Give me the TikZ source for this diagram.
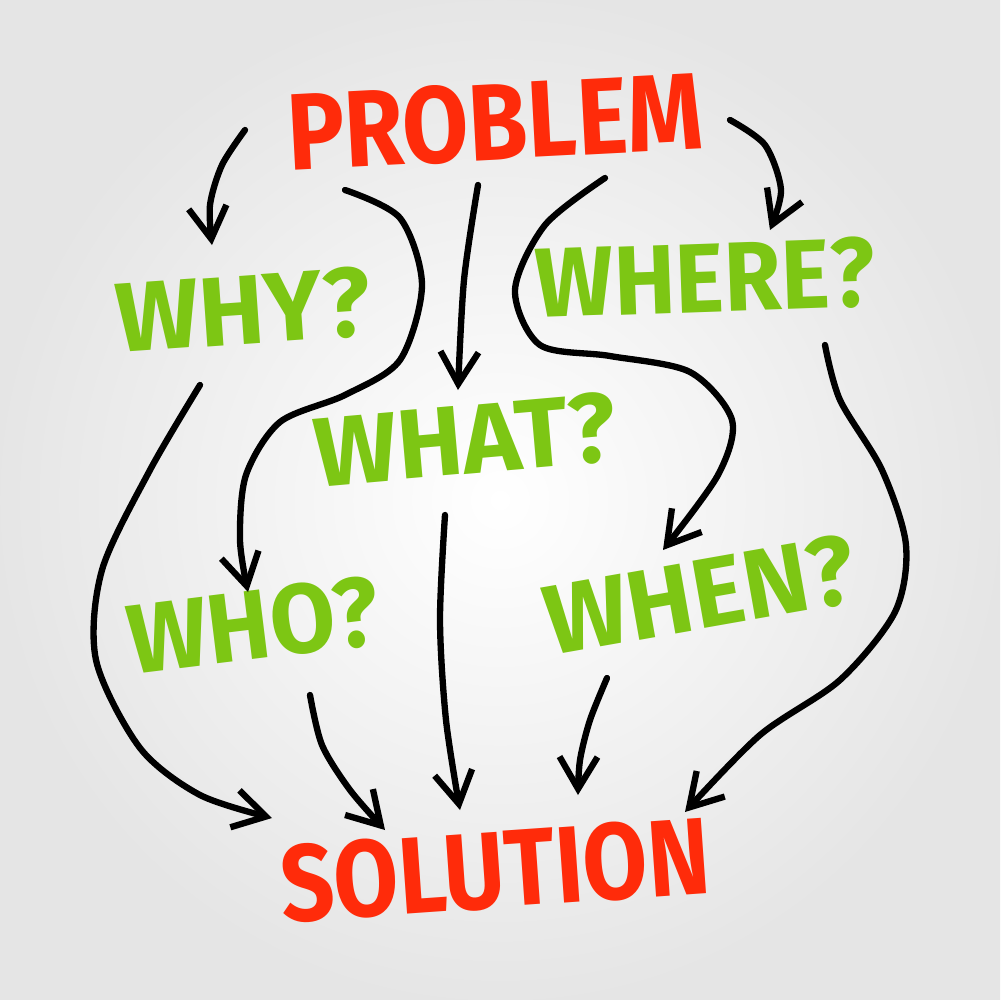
\documentclass[tikz,border=0pt]{standalone}
\usepackage{fontspec}
\setmainfont{Fira Sans}
\usetikzlibrary{arrows.meta}

\definecolor{probred}{HTML}{FF2B0A}
\definecolor{askgreen}{HTML}{7DC614}

\begin{document}
\begin{tikzpicture}[x=0.1mm,y=-0.1mm,
    redword/.style={text=probred,font=\bfseries\fontsize{31}{31}\selectfont,inner sep=0pt},
    greenword/.style={text=askgreen,font=\bfseries\fontsize{28}{28}\selectfont,inner sep=0pt},
    pen/.style={line width=1.8pt,line cap=round,line join=round,
        -{Straight Barb[length=3.2mm,width=3.8mm]}}]

    % light grey background, white in the middle
    \shade[inner color=white,outer color=black!10] (0,0) rectangle (1000,1000);
    \useasboundingbox (0,0) rectangle (1000,1000);

    % words
    \node[redword,rotate=3,xscale=0.88] (problem) at (495,122) {PROBLEM};
    \node[greenword,rotate=4] (why) at (243,310) {WHY?};
    \node[greenword,rotate=2,xscale=0.94] (where) at (705,278) {WHERE?};
    \node[greenword,rotate=5] (what) at (465,440) {WHAT?};
    \node[greenword,rotate=7,xscale=0.96] (who) at (253,625) {WHO?};
    \node[greenword,rotate=10] (when) at (700,595) {WHEN?};
    \node[redword,rotate=4,xscale=0.86] (solution) at (495,870) {SOLUTION};

    % arrow ends
    \coordinate (problem-why) at (245,130);
    \coordinate (problem-who) at (345,190);
    \coordinate (problem-what) at (478,185);
    \coordinate (problem-when) at (605,178);
    \coordinate (problem-where) at (730,120);
    \coordinate (why-in) at (212,245);
    \coordinate (who-in) at (248,592);
    \coordinate (what-in) at (458,390);
    \coordinate (when-in) at (663,550);
    \coordinate (where-in) at (770,230);
    \coordinate (why-out) at (200,385);
    \coordinate (who-out) at (310,695);
    \coordinate (what-out) at (445,515);
    \coordinate (when-out) at (607,678);
    \coordinate (where-out) at (825,345);
    \coordinate (solution-why) at (272,818);
    \coordinate (solution-who) at (385,830);
    \coordinate (solution-what) at (460,810);
    \coordinate (solution-when) at (578,795);
    \coordinate (solution-where) at (685,812);

    % from the problem
    \draw[pen] plot[smooth] coordinates {(problem-why) (222,165) (210,205) (why-in)};
    \draw[pen] plot[smooth] coordinates {(problem-who) (400,218) (422,285) (400,360)
        (345,395) (280,422) (246,475) (240,540) (who-in)};
    \draw[pen] plot[smooth] coordinates {(problem-what) (464,280) (what-in)};
    \draw[pen] plot[smooth] coordinates {(problem-when) (545,225) (515,290) (540,345)
        (610,356) (690,372) (732,420) (718,475) (when-in)};
    \draw[pen] plot[smooth] coordinates {(problem-where) (765,145) (781,190) (where-in)};

    % to the solution
    \draw[pen] plot[smooth] coordinates {(why-out) (150,470) (102,570) (96,660)
        (140,748) (200,795) (solution-why)};
    \draw[pen] plot[smooth] coordinates {(who-out) (322,745) (350,790) (solution-who)};
    \draw[pen] plot[smooth] coordinates {(what-out) (440,620) (446,720) (solution-what)};
    \draw[pen] plot[smooth] coordinates {(when-out) (590,720) (580,760) (solution-when)};
    \draw[pen] plot[smooth] coordinates {(where-out) (840,400) (882,470) (906,545)
        (895,612) (840,680) (760,735) (solution-where)};

\end{tikzpicture}
\end{document}
